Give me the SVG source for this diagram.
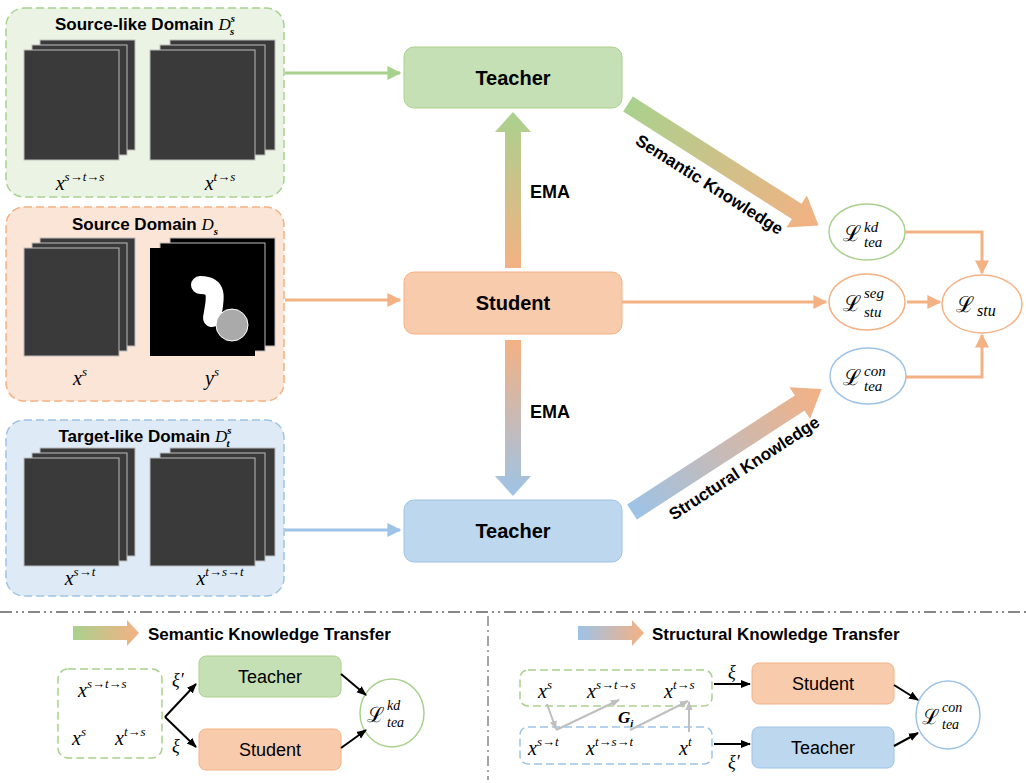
<svg xmlns="http://www.w3.org/2000/svg" width="1026" height="783" viewBox="0 0 1026 783">
<defs>
<style>
.b{font-family:"Liberation Sans",Arial,sans-serif;font-weight:bold;fill:#000}
.m{font-family:"Liberation Serif","DejaVu Serif",serif;font-style:italic;fill:#000}
.L{font-family:"DejaVu Serif",serif;font-style:normal;fill:#000}
.n{font-family:"Liberation Sans",Arial,sans-serif;fill:#000}
.img{fill:#3a3a3a;stroke:#bbb;stroke-width:1}
</style>
<linearGradient id="gUp" x1="0" y1="1" x2="0" y2="0"><stop offset="0" stop-color="#f4b183"/><stop offset="1" stop-color="#a9d18e"/></linearGradient>
<linearGradient id="gDown" x1="0" y1="0" x2="0" y2="1"><stop offset="0" stop-color="#f4b183"/><stop offset="1" stop-color="#9dc3e6"/></linearGradient>
<linearGradient id="gSem" x1="0" y1="0" x2="1" y2="0"><stop offset="0" stop-color="#a9d18e"/><stop offset="1" stop-color="#f4b183"/></linearGradient>
<linearGradient id="gStr" x1="0" y1="0" x2="1" y2="0"><stop offset="0" stop-color="#9dc3e6"/><stop offset="1" stop-color="#f4b183"/></linearGradient>
<marker id="ag" viewBox="0 0 10 10" refX="9" refY="5" markerWidth="14" markerHeight="14" orient="auto" markerUnits="userSpaceOnUse"><path d="M0,0 L10,5 L0,10z" fill="#a9d18e"/></marker>
<marker id="abl" viewBox="0 0 10 10" refX="9" refY="5" markerWidth="14" markerHeight="14" orient="auto" markerUnits="userSpaceOnUse"><path d="M0,0 L10,5 L0,10z" fill="#9dc3e6"/></marker>
<marker id="aor" viewBox="0 0 10 10" refX="9" refY="5" markerWidth="14" markerHeight="14" orient="auto" markerUnits="userSpaceOnUse"><path d="M0,0 L10,5 L0,10z" fill="#f4b183"/></marker>
<marker id="ak" viewBox="0 0 10 10" refX="9" refY="5" markerWidth="10" markerHeight="10" orient="auto" markerUnits="userSpaceOnUse"><path d="M0,1 L10,5 L0,9z" fill="#000"/></marker>
<marker id="agr" viewBox="0 0 10 10" refX="9" refY="5" markerWidth="9" markerHeight="9" orient="auto" markerUnits="userSpaceOnUse"><path d="M0,1 L10,5 L0,9z" fill="#bfbfbf"/></marker>
</defs>
<rect width="1026" height="783" fill="#fff"/>

<g id="sourcelike">
<rect x="6" y="8" width="278" height="189" rx="18" fill="#ebf3e4" stroke="#a9d18e" stroke-width="1.5" stroke-dasharray="8,4"/>
<text x="145" y="30" class="b" font-size="17" text-anchor="middle">Source-like Domain <tspan class="m" font-weight="normal">D</tspan><tspan class="m" font-size="11" dy="-8">s</tspan><tspan class="m" font-size="11" dx="-5" dy="13">s</tspan></text>
<rect class="img" x="40" y="40" width="95" height="110"/><rect class="img" x="32" y="45" width="95" height="110"/><rect class="img" x="24" y="50" width="95" height="110"/>
<rect class="img" x="170" y="40" width="105" height="110"/><rect class="img" x="160" y="45" width="105" height="110"/><rect class="img" x="150" y="50" width="105" height="110"/>
<text x="80" y="190" class="m" font-size="20" text-anchor="middle">x<tspan font-size="13" dy="-9">s→t→s</tspan></text>
<text x="220" y="190" class="m" font-size="20" text-anchor="middle">x<tspan font-size="13" dy="-9">t→s</tspan></text>
</g>

<g id="source">
<rect x="6" y="207" width="278" height="194" rx="18" fill="#fbe5d6" stroke="#f4b183" stroke-width="1.5" stroke-dasharray="8,4"/>
<text x="145" y="230" class="b" font-size="17" text-anchor="middle">Source Domain <tspan class="m" font-weight="normal">D</tspan><tspan class="m" font-size="11" dy="5">s</tspan></text>
<rect class="img" x="40" y="238" width="95" height="108"/><rect class="img" x="32" y="243" width="95" height="108"/><rect class="img" x="24" y="248" width="95" height="108"/>
<rect x="170" y="238" width="105" height="108" fill="#000" stroke="#bbb"/><rect x="160" y="243" width="105" height="108" fill="#000" stroke="#bbb"/><rect x="150" y="248" width="105" height="108" fill="#000"/>
<path d="M200,285 C220,285 215,300 212,318" stroke="#fff" stroke-width="18" fill="none" stroke-linecap="round"/>
<circle cx="232" cy="325" r="16" fill="#aaa" stroke="#fff" stroke-width="1"/>
<text x="80" y="385" class="m" font-size="20" text-anchor="middle">x<tspan font-size="13" dy="-9">s</tspan></text>
<text x="212" y="385" class="m" font-size="20" text-anchor="middle">y<tspan font-size="13" dy="-9">s</tspan></text>
</g>

<g id="targetlike">
<rect x="6" y="420" width="278" height="176" rx="18" fill="#deebf7" stroke="#9dc3e6" stroke-width="1.5" stroke-dasharray="8,4"/>
<text x="145" y="442" class="b" font-size="17" text-anchor="middle">Target-like Domain <tspan class="m" font-weight="normal">D</tspan><tspan class="m" font-size="11" dy="-8">s</tspan><tspan class="m" font-size="11" dx="-5" dy="13">t</tspan></text>
<rect class="img" x="40" y="448" width="95" height="108"/><rect class="img" x="32" y="453" width="95" height="108"/><rect class="img" x="24" y="458" width="95" height="108"/>
<rect class="img" x="170" y="448" width="105" height="108"/><rect class="img" x="160" y="453" width="105" height="108"/><rect class="img" x="150" y="458" width="105" height="108"/>
<text x="80" y="585" class="m" font-size="20" text-anchor="middle">x<tspan font-size="13" dy="-9">s→t</tspan></text>
<text x="220" y="585" class="m" font-size="20" text-anchor="middle">x<tspan font-size="13" dy="-9">t→s→t</tspan></text>
</g>

<g id="teacher1"><rect x="404" y="47" width="218" height="61" rx="10" fill="#c5e0b4" stroke="#a9d18e"/><text x="513" y="85" class="b" font-size="20" text-anchor="middle">Teacher</text></g>
<g id="student"><rect x="404" y="272" width="218" height="62" rx="10" fill="#f8cbad" stroke="#f4b183"/><text x="513" y="310" class="b" font-size="20" text-anchor="middle">Student</text></g>
<g id="teacher2"><rect x="404" y="500" width="218" height="62" rx="10" fill="#bdd7ee" stroke="#9dc3e6"/><text x="513" y="538" class="b" font-size="20" text-anchor="middle">Teacher</text></g>

<g id="losses">
<ellipse cx="867" cy="232" rx="38" ry="28" fill="#fff" stroke="#a9d18e" stroke-width="1.5"/>
<text x="843" y="241" class="L" font-size="22">ℒ</text><text x="864" y="232" class="m" font-size="15">kd</text><text x="864" y="247" class="m" font-size="15">tea</text>
<ellipse cx="867" cy="302" rx="38" ry="28" fill="#fff" stroke="#f4b183" stroke-width="1.5"/>
<text x="843" y="311" class="L" font-size="22">ℒ</text><text x="864" y="298" class="m" font-size="15">seg</text><text x="864" y="317" class="m" font-size="15">stu</text>
<ellipse cx="868" cy="376" rx="38" ry="28" fill="#fff" stroke="#9dc3e6" stroke-width="1.5"/>
<text x="843" y="385" class="L" font-size="22">ℒ</text><text x="864" y="376" class="m" font-size="15">con</text><text x="864" y="391" class="m" font-size="15">tea</text>
<ellipse cx="982" cy="304" rx="40" ry="29" fill="#fff" stroke="#f4b183" stroke-width="1.5"/>
<text x="956" y="312" class="L" font-size="22">ℒ</text><text x="977" y="316" class="m" font-size="16">stu</text>
</g>

<g id="connectors">
<line x1="285" y1="73" x2="400" y2="73" stroke="#a9d18e" stroke-width="3" marker-end="url(#ag)"/>
<line x1="285" y1="300" x2="400" y2="300" stroke="#f4b183" stroke-width="3" marker-end="url(#aor)"/>
<line x1="285" y1="530" x2="400" y2="530" stroke="#9dc3e6" stroke-width="3" marker-end="url(#abl)"/>
<path d="M505,268 L505,132 L495,132 L513,112 L531,132 L521,132 L521,268z" fill="url(#gUp)"/>
<path d="M505,340 L505,476 L495,476 L513,496 L531,476 L521,476 L521,340z" fill="url(#gDown)"/>
<text x="550" y="198" class="b" font-size="18" text-anchor="middle">EMA</text>
<text x="550" y="418" class="b" font-size="18" text-anchor="middle">EMA</text>
<g transform="translate(628,104) rotate(32.5)">
<path d="M0,-9 L200,-9 L200,-19 L226,0 L200,19 L200,9 L0,9z" fill="url(#gSem)"/>
<text x="112" y="30" class="b" font-size="17" text-anchor="middle">Semantic Knowledge</text>
</g>
<g transform="translate(632,512) rotate(-33)">
<path d="M0,-9 L200,-9 L200,-19 L226,0 L200,19 L200,9 L0,9z" fill="url(#gStr)"/>
<text x="118" y="30" class="b" font-size="17" text-anchor="middle">Structural Knowledge</text>
</g>
<line x1="622" y1="302" x2="826" y2="302" stroke="#f4b183" stroke-width="3" marker-end="url(#aor)"/>
<line x1="907" y1="302" x2="940" y2="302" stroke="#f4b183" stroke-width="3" marker-end="url(#aor)"/>
<polyline points="905,232 982,232 982,273" fill="none" stroke="#f4b183" stroke-width="3" marker-end="url(#aor)"/>
<polyline points="906,377 982,377 982,335" fill="none" stroke="#f4b183" stroke-width="3" marker-end="url(#aor)"/>
</g>

<g id="legend">
<line x1="0" y1="612" x2="1026" y2="612" stroke="#888" stroke-width="2" stroke-dasharray="12,4,2,4,2,4"/>
<line x1="488" y1="616" x2="488" y2="780" stroke="#888" stroke-width="1.5" stroke-dasharray="10,4,2,4"/>
<path d="M73,626 L127,626 L127,620 L139,633 L127,646 L127,640 L73,640z" fill="url(#gSem)"/>
<text x="148" y="640" class="b" font-size="17">Semantic Knowledge Transfer</text>
<path d="M578,626 L632,626 L632,620 L644,633 L632,646 L632,640 L578,640z" fill="url(#gStr)"/>
<text x="652" y="640" class="b" font-size="17">Structural Knowledge Transfer</text>
</g>

<g id="semexample">
<rect x="58" y="669" width="104" height="89" rx="10" fill="none" stroke="#a9d18e" stroke-width="1.5" stroke-dasharray="8,4"/>
<text x="78" y="697" class="m" font-size="20">x<tspan font-size="13" dy="-9">s→t→s</tspan></text>
<text x="72" y="745" class="m" font-size="20">x<tspan font-size="13" dy="-9">s</tspan></text>
<text x="115" y="745" class="m" font-size="20">x<tspan font-size="13" dy="-9">t→s</tspan></text>
<rect x="199" y="656" width="142" height="41" rx="7" fill="#c5e0b4" stroke="#a9d18e"/><text x="270" y="683" class="n" font-size="18" text-anchor="middle">Teacher</text>
<rect x="199" y="729" width="142" height="41" rx="7" fill="#f8cbad" stroke="#f4b183"/><text x="270" y="756" class="n" font-size="18" text-anchor="middle">Student</text>
<ellipse cx="392" cy="713" rx="32" ry="34" fill="#fff" stroke="#a9d18e" stroke-width="1.5"/>
<text x="367" y="722" class="L" font-size="21">ℒ</text><text x="387" y="710" class="m" font-size="14">kd</text><text x="387" y="727" class="m" font-size="14">tea</text>
<polyline points="165,717 196,684" fill="none" stroke="#000" stroke-width="2" marker-end="url(#ak)"/>
<polyline points="165,717 196,747" fill="none" stroke="#000" stroke-width="2" marker-end="url(#ak)"/>
<text x="172" y="686" class="m" font-size="18">ξ′</text><text x="172" y="752" class="m" font-size="18">ξ</text>
<line x1="341" y1="674" x2="366" y2="695" stroke="#000" stroke-width="2" marker-end="url(#ak)"/>
<line x1="341" y1="748" x2="366" y2="730" stroke="#000" stroke-width="2" marker-end="url(#ak)"/>
</g>

<g id="strexample">
<rect x="520" y="670" width="192" height="36" rx="8" fill="none" stroke="#a9d18e" stroke-width="1.5" stroke-dasharray="8,4"/>
<rect x="520" y="727" width="192" height="37" rx="8" fill="none" stroke="#9dc3e6" stroke-width="1.5" stroke-dasharray="8,4"/>
<text x="538" y="698" class="m" font-size="20">x<tspan font-size="13" dy="-9">s</tspan></text>
<text x="587" y="698" class="m" font-size="20">x<tspan font-size="13" dy="-9">s→t→s</tspan></text>
<text x="664" y="698" class="m" font-size="20">x<tspan font-size="13" dy="-9">t→s</tspan></text>
<text x="528" y="755" class="m" font-size="20">x<tspan font-size="13" dy="-9">s→t</tspan></text>
<text x="586" y="755" class="m" font-size="20">x<tspan font-size="13" dy="-9">t→s→t</tspan></text>
<text x="679" y="755" class="m" font-size="20">x<tspan font-size="13" dy="-9">t</tspan></text>
<line x1="547" y1="704" x2="556" y2="729" stroke="#bfbfbf" stroke-width="2" marker-end="url(#agr)"/>
<line x1="556" y1="730" x2="619" y2="700" stroke="#bfbfbf" stroke-width="2" marker-end="url(#agr)"/>
<line x1="630" y1="730" x2="688" y2="701" stroke="#bfbfbf" stroke-width="2" marker-end="url(#agr)"/>
<line x1="689" y1="732" x2="689" y2="702" stroke="#bfbfbf" stroke-width="2" marker-end="url(#agr)"/>
<text x="618" y="723" class="m" font-size="17" font-weight="bold">G<tspan font-size="11" dy="4">i</tspan></text>
<rect x="752" y="663" width="142" height="41" rx="7" fill="#f8cbad" stroke="#f4b183"/><text x="823" y="690" class="n" font-size="18" text-anchor="middle">Student</text>
<rect x="752" y="727" width="142" height="41" rx="7" fill="#bdd7ee" stroke="#9dc3e6"/><text x="823" y="754" class="n" font-size="18" text-anchor="middle">Teacher</text>
<ellipse cx="948" cy="715" rx="32" ry="34" fill="#fff" stroke="#9dc3e6" stroke-width="1.5"/>
<text x="922" y="724" class="L" font-size="21">ℒ</text><text x="942" y="712" class="m" font-size="14">con</text><text x="942" y="729" class="m" font-size="14">tea</text>
<line x1="714" y1="684" x2="750" y2="684" stroke="#000" stroke-width="2" marker-end="url(#ak)"/>
<line x1="714" y1="744" x2="750" y2="744" stroke="#000" stroke-width="2" marker-end="url(#ak)"/>
<text x="728" y="678" class="m" font-size="18">ξ</text><text x="728" y="768" class="m" font-size="18">ξ′</text>
<line x1="894" y1="685" x2="918" y2="700" stroke="#000" stroke-width="2" marker-end="url(#ak)"/>
<line x1="894" y1="746" x2="918" y2="733" stroke="#000" stroke-width="2" marker-end="url(#ak)"/>
</g>
</svg>
